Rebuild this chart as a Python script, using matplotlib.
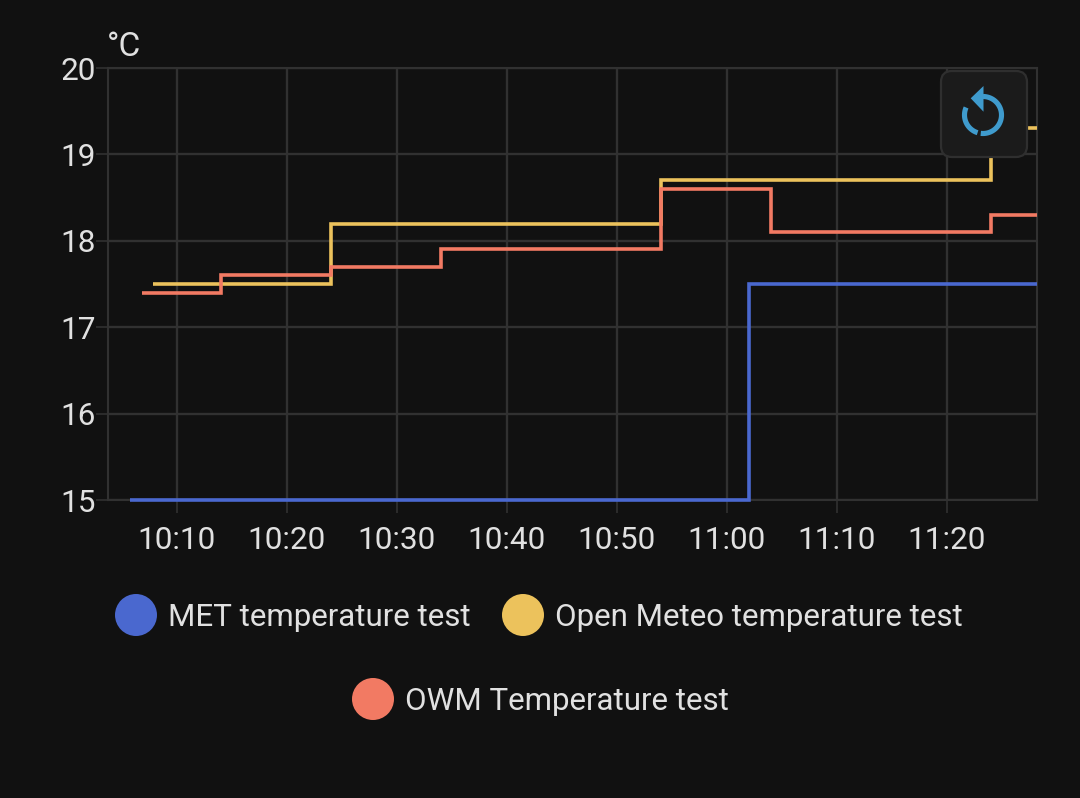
import numpy as np
import pandas as pd
import matplotlib
matplotlib.use("Agg")
import matplotlib.pyplot as plt
import matplotlib.dates as mdates
from matplotlib.patches import Circle, FancyBboxPatch, Polygon

plt.rcParams['font.family'] = ['Roboto', 'DejaVu Sans']

DAY = "2024-01-01 "
met_times = ["10:05:42", "11:02:00", "11:28:12"]
met_values = [15.0, 17.5, 17.5]
open_times = ["10:07:48", "10:24:00", "10:54:00", "11:24:00", "11:28:12"]
open_values = [17.5, 18.2, 18.7, 19.3, 19.3]
owm_times = ["10:06:48", "10:14:00", "10:24:00", "10:34:00", "10:54:00",
             "11:04:00", "11:24:00", "11:28:12"]
owm_values = [17.4, 17.6, 17.7, 17.9, 18.6, 18.1, 18.3, 18.3]
tick_times = ["10:10", "10:20", "10:30", "10:40", "10:50", "11:00", "11:10", "11:20"]
y_ticks = [15, 16, 17, 18, 19, 20]
x_limits = ["10:03:44", "11:28:12"]
series_names = ["MET temperature test", "Open Meteo temperature test", "OWM Temperature test"]

BG = "#111111"
GRID = "#313131"
TEXT = "#e1e1e1"
BLUE = "#4a68cf"
YELLOW = "#ecc25c"
RED = "#f27a63"

def to_t(items):
    return pd.to_datetime([DAY + s for s in items])

W, H = 1080, 798
fig = plt.figure(figsize=(W / 100, H / 100), dpi=100, facecolor=BG)
ax = fig.add_axes([108 / W, 1 - 500 / H, (1037 - 108) / W, (500 - 68) / H], facecolor=BG)

for t, v, c in [(met_times, met_values, BLUE),
                (open_times, open_values, YELLOW),
                (owm_times, owm_values, RED)]:
    ax.plot(to_t(t), v, drawstyle="steps-post", color=c, lw=2.6, zorder=3,
            solid_joinstyle="miter", solid_capstyle="butt")
# keep the baseline value fully visible at the axis edge
ax.lines[0].set_clip_on(False)

ax.set_xlim(to_t(x_limits)[0], to_t(x_limits)[1])
ax.set_ylim(15, 20)
ax.set_xticks(to_t(tick_times))
ax.xaxis.set_major_formatter(mdates.DateFormatter("%H:%M"))
ax.set_yticks(y_ticks)
ax.grid(True, color=GRID, lw=1.7)
ax.set_axisbelow(True)
ax.tick_params(axis="x", colors=TEXT, labelsize=22.7, length=9, width=1.2, color=GRID, pad=10)
ax.tick_params(axis="y", colors=TEXT, labelsize=22.7, length=9, width=1.2, color=GRID, pad=0)
for s in ax.spines.values():
    s.set_color(GRID)
    s.set_linewidth(1.5)

# Pixel-space overlay for legend, unit and reset button
ov = fig.add_axes([0, 0, 1, 1], facecolor="none")
ov.set_xlim(0, W)
ov.set_ylim(H, 0)
ov.axis("off")

ov.text(107, 47, "°C", color=TEXT, fontsize=24, va="center", ha="left")

for (cx, cy, tx), name, c in zip([(136, 615, 168), (523, 615, 555), (373, 699, 405)],
                                 series_names, [BLUE, YELLOW, RED]):
    ov.add_patch(Circle((cx, cy), 21, color=c, lw=0))
    ov.text(tx, cy + 2.5, name, color=TEXT, fontsize=22.5, va="center", ha="left")

ov.add_patch(FancyBboxPatch((948, 78), 72, 72, boxstyle="round,pad=7,rounding_size=11",
                            fc="#1b1b1b", ec="#2f2f2f", lw=1.6, zorder=5))
ICON = "#3f9bcd"
cx, cy, r = 983, 115, 18.5
for a0, a1 in [(0, 187), (197, 294)]:   # degrees clockwise from top
    a = np.radians(np.linspace(a0, a1, 60))
    ov.plot(cx + r * np.sin(a), cy - r * np.cos(a), color=ICON, lw=3.7,
            solid_capstyle="butt", zorder=6)
ov.add_patch(Polygon([(970.7, 98.3), (983.5, 86), (983.5, 111.7)], closed=True,
                     fc=ICON, ec="none", zorder=7))

fig.savefig("out.png", dpi=100, facecolor=BG)
